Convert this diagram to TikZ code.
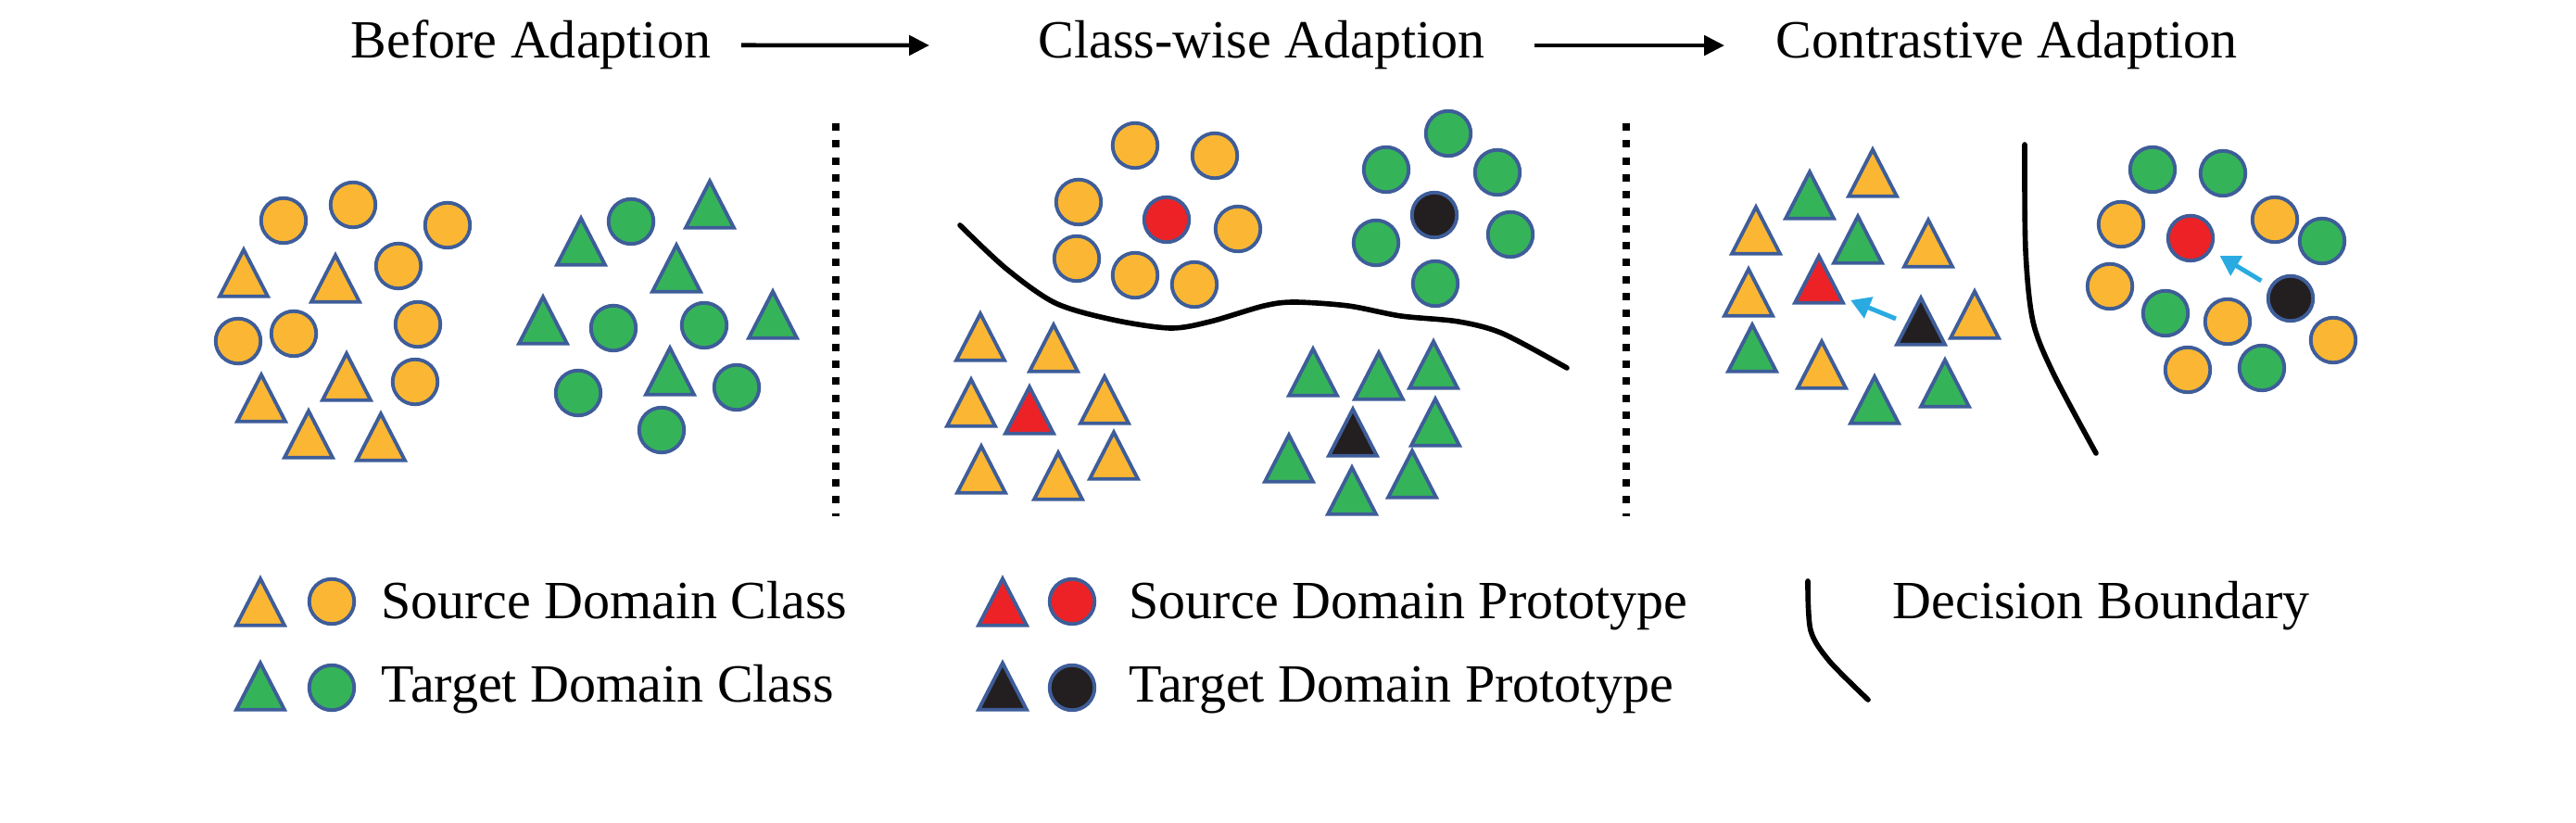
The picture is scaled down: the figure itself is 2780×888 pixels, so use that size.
\documentclass[tikz,border=0pt]{standalone}
\usepackage{fontspec}
\setmainfont{Liberation Serif}
\usetikzlibrary{arrows.meta,shapes.geometric}

\definecolor{srcfill}{HTML}{FBB733}
\definecolor{tgtfill}{HTML}{35B359}
\definecolor{srcproto}{HTML}{EC2227}
\definecolor{tgtproto}{HTML}{231F20}
\definecolor{rim}{HTML}{3E5D99}
\definecolor{pullcol}{HTML}{29ABE2}

\tikzset{
  dot/.style={circle,draw=rim,line width=1.1pt,minimum size=0.485cm,inner sep=0pt},
  tri/.style={regular polygon,regular polygon sides=3,draw=rim,line width=1.1pt,minimum size=0.6cm,inner sep=0pt,yscale=1.12},
  lbl/.style={inner sep=0pt,font=\fontsize{16.5pt}{20pt}\selectfont},
  flow/.style={line width=1.3pt,-{Stealth[inset=0pt,length=6.2pt,width=6pt]}},
  pull/.style={color=pullcol,line width=1.4pt,-{Stealth[inset=0pt,length=6pt,width=6.8pt]}},
  bound/.style={line width=1.6pt,line cap=round},
  splitline/.style={line width=2.3pt,dash pattern=on 2.3pt off 2.9pt}
}

\begin{document}
\begin{tikzpicture}[x=0.01cm,y=-0.01cm]
	\useasboundingbox (0,0) rectangle (2780,888);

	% titres
	\node[lbl,anchor=base west] (before) at (378,63) {Before Adaption};
	\node[lbl,anchor=base west] (cwise) at (1120,63) {Class-wise Adaption};
	\node[lbl,anchor=base west] (contra) at (1916,63) {Contrastive Adaption};
	\draw[flow,shorten <=0.32cm,shorten >=1.17cm] (before.east) -- (cwise.west);
	\draw[flow,shorten <=0.53cm,shorten >=0.55cm] (cwise.east) -- (contra.west);

	\draw[splitline] (902,133) -- (902,557); % separateurs
	\draw[splitline] (1755,133) -- (1755,557);

	% avant adaptation
	\foreach \x/\y [count=\i] in {306/238,381/221,483/243,430/287,257/368,317/360,451/350,448/412}
		\node[dot,fill=srcfill] (bo\i) at (\x,\y) {};
	\foreach \x/\y [count=\i] in {263/303,362/309,374/415,282/438,333/477,411/480}
		\node[tri,fill=srcfill] (bt\i) at (\x,\y) {};
	\foreach \x/\y [count=\i] in {681/239,662/354,760/351,624/424,795/418,714/464}
		\node[dot,fill=tgtfill] (bg\i) at (\x,\y) {};
	\foreach \x/\y [count=\i] in {627/269,766/229,730/298,586/354,834/348,723/409}
		\node[tri,fill=tgtfill] (bk\i) at (\x,\y) {};

	% adaptation par classe
	\draw[bound] plot[smooth] coordinates {(1036,243) (1086,290) (1139,327) (1201,345) (1263,354) (1306,347) (1364,330) (1397,326) (1455,330) (1512,341) (1574,347) (1622,360) (1691,397)};
	\foreach \x/\y [count=\i] in {1225/157,1311/168,1164/218,1336/247,1162/279,1225/297,1289/307}
		\node[dot,fill=srcfill] (wo\i) at (\x,\y) {};
	\node[dot,fill=srcproto] (wor) at (1259,237) {};
	\foreach \x/\y [count=\i] in {1563/144,1496/183,1616/186,1485/262,1630/253,1549/306}
		\node[dot,fill=tgtfill] (wg\i) at (\x,\y) {};
	\node[dot,fill=tgtproto] (wgk) at (1548,232) {};
	\foreach \x/\y [count=\i] in {1058/372,1137/384,1048/443,1192/440,1059/515,1142/522,1202/500}
		\node[tri,fill=srcfill] (wt\i) at (\x,\y) {};
	\node[tri,fill=srcproto] (wtr) at (1111,451) {};
	\foreach \x/\y [count=\i] in {1417/410,1488/414,1547/402,1549/464,1391/503,1524/520,1459/538}
		\node[tri,fill=tgtfill] (wk\i) at (\x,\y) {};
	\node[tri,fill=tgtproto] (wkk) at (1460,475) {};

	% adaptation contrastive
	\draw[bound] plot[smooth] coordinates {(2185,156) (2186,270) (2194,347) (2216,403) (2262,489)};
	\foreach \x/\y [count=\i] in {2021/195,1895/257,2081/271,1887/324,2131/348,1966/402}
		\node[tri,fill=srcfill] (ct\i) at (\x,\y) {};
	\foreach \x/\y [count=\i] in {1953/219,2005/267,1891/384,2023/440,2099/422}
		\node[tri,fill=tgtfill] (ck\i) at (\x,\y) {};
	\node[tri,fill=srcproto] (ctr) at (1963,310) {};
	\node[tri,fill=tgtproto] (ckk) at (2073,355) {};
	\foreach \x/\y [count=\i] in {2323/183,2399/187,2506/260,2337/338,2441/397}
		\node[dot,fill=tgtfill] (cg\i) at (\x,\y) {};
	\foreach \x/\y [count=\i] in {2289/242,2455/237,2277/309,2404/347,2361/399,2518/367}
		\node[dot,fill=srcfill] (co\i) at (\x,\y) {};
	\node[dot,fill=srcproto] (cor) at (2364,257) {};
	\node[dot,fill=tgtproto] (cgk) at (2472,322) {};
	\draw[pull,shorten <=8.3pt,shorten >=10.5pt] (ckk.center) -- (ctr.center);
	\draw[pull,shorten <=10.5pt,shorten >=10.5pt] (cgk.center) -- (cor.center);

	% legende
	\node[tri,fill=srcfill] (lt1) at (281,658) {};
	\node[dot,fill=srcfill] (lo1) at (358,649) {};
	\node[lbl,anchor=base west] (lsrc) at (411,667) {Source Domain Class};
	\node[tri,fill=tgtfill] (lt2) at (281,749) {};
	\node[dot,fill=tgtfill] (lo2) at (358,742) {};
	\node[lbl,anchor=base west] (ltgt) at (411,758) {Target Domain Class};
	\node[tri,fill=srcproto] (lt3) at (1082,658) {};
	\node[dot,fill=srcproto] (lo3) at (1157,649) {};
	\node[lbl,anchor=base west] (lsp) at (1218,667) {Source Domain Prototype};
	\node[tri,fill=tgtproto] (lt4) at (1082,749) {};
	\node[dot,fill=tgtproto] (lo4) at (1157,742) {};
	\node[lbl,anchor=base west] (ltp) at (1218,758) {Target Domain Prototype};
	\draw[bound] plot[smooth] coordinates {(1951,627) (1954,680) (1974,713) (2016,755)};
	\node[lbl,anchor=base west] (ldb) at (2042,667) {Decision Boundary};
\end{tikzpicture}
\end{document}
